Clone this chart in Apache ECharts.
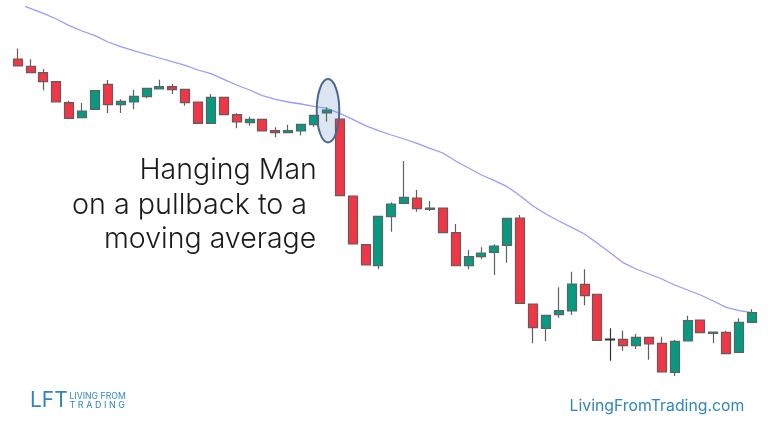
<!DOCTYPE html>
<html>
<head>
<meta charset="utf-8">
<style>html,body{margin:0;padding:0;background:#fff}#chart{width:768px;height:432px}</style>
<script src="https://cdn.jsdelivr.net/npm/echarts@6/dist/echarts.min.js"></script>
</head>
<body>
<div id="chart"></div>
<script>
var opens = [373,365.7,359.3,350.3,329.3,314.3,322.7,347.7,327.3,330,335.3,343,345.3,342.7,330,308.7,334.7,317.3,309.3,312.7,301.3,299.3,301,307.3,319,313,236,187.3,166.3,215.3,228.7,234,222.7,224,199.3,166.3,175.3,179.7,186.7,214,128,103.7,117.3,121,147.7,137.7,92,92.7,86.3,94.7,88.7,59.7,91,112,98.7,99.7,79.7,109.7];
var closes = [366,359.3,350.3,330,313.7,321,341.3,327.3,330.7,335.7,343.7,345.3,342.3,329.3,308.7,334.7,317.3,310,312.7,301,299.3,301.3,307.7,316.7,322,236.3,188,167,215.7,228,234.7,223.3,224,199.3,166.3,175.3,179,186,213.7,128.7,104.3,116.7,121.3,148,136.3,91.7,93,86.3,94.7,88,60,90.7,111.3,99.3,100,78.3,109.7,119.3];
var lows = [366,359.3,341.7,330,313.7,314.3,322.7,319,319,322.7,333.7,343,338,326.3,308.7,308.7,317.3,303.7,306.3,301,294.7,298.7,296.7,305.3,310.3,236.3,188,167,162.7,200.3,228.7,220.3,221,198.7,166.3,162.7,172.7,157,169.3,128.7,88.7,91,114.3,117,126.7,91.7,71.3,81.3,83,72.3,60,56,91,99.3,88.7,78.3,79.7,109.7];
var highs = [383.5,372.7,363,350.3,331.3,329,341.3,352,332.7,342.3,343.7,352.3,348,342.7,330,338,334.7,318.7,315.3,312.7,304.7,307.3,307.7,316.7,324.7,313,236,187.3,215.7,229.7,271,242,231,224,208,182,184.7,187.7,213.7,217,128,116.7,144.7,160.3,162.7,137.7,103.7,101.3,98,94.7,95.3,92,116.3,112,100.5,101.3,113.7,122.7];
var maX = [0.57,2,3,4,5,6,7,8,9,10,11,12,13,14,15,16,17,18,19,20,21,22,23,24,25,26,27,28,29,30,31,32,33,34,35,36,37,38,39,40,41,42,43,44,45,46,47,48,49,50,51,52,53,54,55,56,57,57.4];
var maY = [425.7,418.7,413,406.3,401,396.3,390,385.3,381.3,377.7,374,370.3,366.7,362,358.3,352.7,347,342,336.3,332.7,330,328,325.7,323.7,318.7,312.7,306.3,301.3,297,293,288.7,283.7,279,271,264,257,251.3,245.3,236.3,226,218,211,204.7,198,188.7,179.3,169.3,163,158,153,147,142,137,131,124.7,121.3,119.3,118];
var categories = opens.map(function (v, i) { return i; });
var dojiIndex = 46;

var chart = echarts.init(document.getElementById('chart'));
var candleData = opens.map(function (o, i) {
    var row = [o, closes[i], lows[i], highs[i]];
    if (i === dojiIndex) {
        return {value: row, itemStyle: {color: '#222', color0: '#222', borderColor: '#333', borderColor0: '#333'}};
    }
    return row;
});
var lineData = maX.map(function (x, i) { return [x, maY[i]]; });
var fontName = 'Inter';
var blue = '#2f86bd';
var ink = '#1a1a1a';

function label(x, y, text, size, weight, align, color) {
    return {
        type: 'text', z: 20,
        style: {x: x, y: y, text: text, fontFamily: fontName, fontSize: size, fontWeight: weight, fill: color, align: align, verticalAlign: 'middle'}
    };
}

chart.setOption({
    animation: false,
    backgroundColor: '#fff',
    grid: {left: 11.26, right: 9.56, top: 0, bottom: 0},
    xAxis: [
        {type: 'category', data: categories, show: false, boundaryGap: true},
        {type: 'value', min: -0.5, max: 57.5, show: false}
    ],
    yAxis: {type: 'value', min: 0, max: 432, show: false, splitLine: {show: false}},
    series: [
        {
            type: 'line',
            xAxisIndex: 1,
            data: lineData,
            symbol: 'none',
            smooth: false,
            lineStyle: {color: '#9a9aff', width: 1.3},
            z: 2
        },
        {
            type: 'candlestick',
            data: candleData,
            barWidth: 9.5,
            itemStyle: {
                color: '#089981',
                color0: '#f23645',
                borderColor: '#5c6462',
                borderColor0: '#665a5c',
                borderWidth: 1.2
            },
            z: 3
        }
    ],
    graphic: [
        // fill goes under the candles, outline over them
        {
            type: 'ellipse', z: 1,
            shape: {cx: 328, cy: 110.8, rx: 11.3, ry: 31.8},
            style: {fill: '#dce5f2'}
        },
        {
            type: 'ellipse', z: 10,
            shape: {cx: 328, cy: 110.8, rx: 11.3, ry: 31.8},
            style: {fill: 'none', stroke: '#48698f', lineWidth: 2}
        },
        label(139.5, 170.5, 'Hanging Man', 28.5, 300, 'left', ink),
        label(72, 205.5, 'on a pullback to a', 28.7, 300, 'left', ink),
        label(104, 239.5, 'moving average', 28.5, 300, 'left', ink),
        label(30, 400.5, 'LFT', 21, 400, 'left', blue),
        label(69.5, 396.5, 'LIVING FROM', 8.7, 400, 'left', blue),
        label(69.5, 405, 'T R A D I N G', 9, 400, 'left', blue),
        label(569.5, 406, 'LivingFromTrading.com', 15.8, 400, 'left', blue)
    ]
});
</script>
</body>
</html>
